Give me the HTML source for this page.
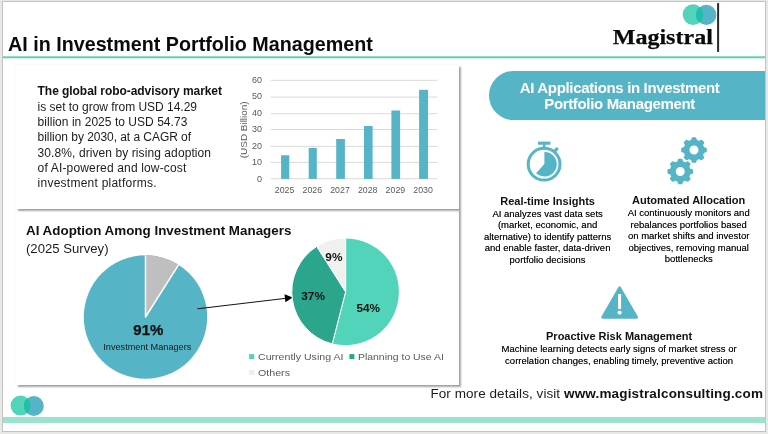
<!DOCTYPE html>
<html lang="en">
<head>
<meta charset="utf-8">
<title>AI in Investment Portfolio Management</title>
<style>
html,body{margin:0;padding:0;}
body{width:768px;height:434px;overflow:hidden;background:#e8e8e5;font-family:"Liberation Sans",sans-serif;color:#111;}
#slide{position:absolute;left:2px;top:1px;width:762px;height:429px;background:#fff;border:1px solid #c2c2c2;}
.abs{position:absolute;white-space:nowrap;z-index:3;}
#title{left:8.4px;top:32.5px;font-size:20.4px;line-height:23px;font-weight:bold;color:#0a0a0a;transform-origin:0 0;transform:scaleX(0.967);}
.card{position:absolute;background:#fff;box-shadow:2px 2px 1.6px rgba(0,0,0,0.34), 0 0 1.5px rgba(0,0,0,0.07);}
#card1{left:16px;top:65px;width:443px;height:144px;z-index:2;}
#card2{left:16px;top:209px;width:443px;height:175.7px;z-index:1;}
#para{left:37.6px;top:0;font-size:12px;line-height:14px;color:#1c1c1c;}
#para b{color:#111;}
#para span{position:absolute;left:0;white-space:nowrap;}
#h2{left:26.2px;top:223px;font-size:13.5px;line-height:16px;font-weight:bold;color:#111;transform-origin:0 50%;transform:translateY(0.45px) scaleX(0.992);z-index:3;}
#h2s{left:26.2px;top:241px;font-size:13.5px;line-height:16px;color:#1c1c1c;transform-origin:0 50%;transform:translateY(0.45px) scaleX(0.973);z-index:3;}
#pill{position:absolute;left:489px;top:71px;width:276px;height:49px;background:#55b4c6;border-radius:24.5px 0 0 24.5px;}
#pilltxt{left:488.6px;top:79.7px;width:262px;text-align:center;font-size:15px;line-height:16.75px;font-weight:bold;color:#fff;letter-spacing:-0.34px;}
.ct{position:absolute;text-align:center;white-space:nowrap;color:#111;z-index:3;}
.ct h3{margin:0;font-size:11px;line-height:12px;font-weight:bold;color:#111;}
.ct p{margin:1px 0 0;font-size:9.5px;line-height:11.45px;color:#000;text-shadow:0 0 0.5px rgba(0,0,0,0.55);}
#c1{left:467.6px;top:195px;width:160px;}
#c2{left:608.7px;top:194.4px;width:160px;}
#c3{left:469.1px;top:329.9px;width:300px;}
#c3 p{line-height:11.8px;}
#footer{left:430.5px;top:385.6px;font-size:13.5px;line-height:16px;color:#1c1c1c;letter-spacing:0.06px;}
#footer b{color:#111;letter-spacing:0.17px;}
svg{position:absolute;left:0;top:0;z-index:4;}
svg text{font-family:"Liberation Sans",sans-serif;}
#bar{position:absolute;left:3px;top:417px;width:762px;height:5.7px;background:#9ae3cf;}
</style>
</head>
<body>
<div id="slide"></div>
<div id="title" class="abs">AI in Investment Portfolio Management</div>

<div id="card1" class="card"></div>
<div id="card2" class="card"></div>

<div id="para" class="abs">
<span style="top:84px;letter-spacing:-0.055px"><b>The global robo-advisory market</b></span>
<span style="top:100px;letter-spacing:-0.024px">is set to grow from USD 14.29</span>
<span style="top:115px;letter-spacing:0.035px">billion in 2025 to USD 54.73</span>
<span style="top:130px;letter-spacing:-0.045px">billion by 2030, at a CAGR of</span>
<span style="top:146px;letter-spacing:0.085px">30.8%, driven by rising adoption</span>
<span style="top:161px;letter-spacing:0.16px">of AI-powered and low-cost</span>
<span style="top:176px;letter-spacing:0.243px">investment platforms.</span>
</div>

<div id="h2" class="abs">AI Adoption Among Investment Managers</div>
<div id="h2s" class="abs">(2025 Survey)</div>

<div id="pill"></div>
<div id="pilltxt" class="abs">AI Applications in Investment<br>Portfolio Management</div>

<div id="c1" class="ct"><h3>Real-time Insights</h3><p>AI analyzes vast data sets<br>(market, economic, and<br>alternative) to identify patterns<br>and enable faster, data-driven<br>portfolio decisions</p></div>
<div id="c2" class="ct"><h3>Automated Allocation</h3><p>AI continuously monitors and<br>rebalances portfolios based<br>on market shifts and investor<br>objectives, removing manual<br>bottlenecks</p></div>
<div id="c3" class="ct"><h3>Proactive Risk Management</h3><p>Machine learning detects early signs of market stress or<br>correlation changes, enabling timely, preventive action</p></div>

<div id="footer" class="abs">For more details, visit <b>www.magistralconsulting.com</b></div>
<div id="bar"></div>

<svg width="768" height="434" viewBox="0 0 768 434">
  <rect id="rule" x="3" y="56.3" width="762" height="2" fill="#60cfb4"/>
  <!-- logo top -->
  <g id="logo">
    <circle cx="693" cy="14.6" r="10.3" fill="#52d4bb"/>
    <circle cx="706.3" cy="14.9" r="10.1" fill="#55b4c6"/>
    <path d="M699.6 6.9 A10.1 10.1 0 0 0 699.6 22.6 A10.3 10.3 0 0 0 699.6 6.9 Z" fill="#20bfa9"/>
    <rect x="717.1" y="3.1" width="2" height="48.8" fill="#2a2a2a"/>
    <text x="612.7" y="44.4" font-family="'Liberation Serif',serif" font-weight="bold" font-size="21.4" fill="#0a0a0a" stroke="#0a0a0a" stroke-width="0.25" textLength="100.2" lengthAdjust="spacingAndGlyphs" style="font-family:'Liberation Serif',serif">Magistral</text>
  </g>
  <!-- logo bottom -->
  <g>
    <circle cx="20.6" cy="405.6" r="10" fill="#52d4bb"/>
    <circle cx="33.8" cy="406" r="10" fill="#55b4c6"/>
    <path d="M27.2 398.4 A10 10 0 0 0 27.2 413.3 A10 10 0 0 0 27.2 398.4 Z" fill="#20bfa9"/>
  </g>

  <!-- bar chart -->
  <g id="barchart">
    <g stroke="#d9d9d9" stroke-width="1">
      <line x1="270.8" x2="437.3" y1="80.3" y2="80.3"/>
      <line x1="270.8" x2="437.3" y1="97.1" y2="97.1"/>
      <line x1="270.8" x2="437.3" y1="113.75" y2="113.75"/>
      <line x1="270.8" x2="437.3" y1="129.5" y2="129.5"/>
      <line x1="270.8" x2="437.3" y1="146.4" y2="146.4"/>
      <line x1="270.8" x2="437.3" y1="162.4" y2="162.4"/>
      <line x1="270.8" x2="437.3" y1="178.75" y2="178.75"/>
    </g>
    <g fill="#55b4c6">
      <rect x="281.1" y="155.3" width="8.2" height="23.6"/>
      <rect x="308.7" y="148.0" width="8.1" height="30.9"/>
      <rect x="336.2" y="139.0" width="8.7" height="39.9"/>
      <rect x="364.0" y="126.0" width="8.6" height="52.9"/>
      <rect x="391.4" y="110.5" width="8.7" height="68.4"/>
      <rect x="419.1" y="89.8" width="8.9" height="89.1"/>
    </g>
    <g font-size="9.6" fill="#595959" text-anchor="end">
      <text x="262" y="83.2" textLength="10" lengthAdjust="spacingAndGlyphs">60</text>
      <text x="262" y="99.3" textLength="10" lengthAdjust="spacingAndGlyphs">50</text>
      <text x="262" y="116.2" textLength="10" lengthAdjust="spacingAndGlyphs">40</text>
      <text x="262" y="131.9" textLength="10" lengthAdjust="spacingAndGlyphs">30</text>
      <text x="262" y="148.8" textLength="10" lengthAdjust="spacingAndGlyphs">20</text>
      <text x="262" y="164.6" textLength="10" lengthAdjust="spacingAndGlyphs">10</text>
      <text x="262" y="181.5" textLength="5" lengthAdjust="spacingAndGlyphs">0</text>
    </g>
    <g font-size="9.6" fill="#595959" text-anchor="middle">
      <text x="284.6" y="193.2" textLength="19.6" lengthAdjust="spacingAndGlyphs">2025</text>
      <text x="312.3" y="193.2" textLength="19.6" lengthAdjust="spacingAndGlyphs">2026</text>
      <text x="340.0" y="193.2" textLength="19.6" lengthAdjust="spacingAndGlyphs">2027</text>
      <text x="367.7" y="193.2" textLength="19.6" lengthAdjust="spacingAndGlyphs">2028</text>
      <text x="395.4" y="193.2" textLength="19.6" lengthAdjust="spacingAndGlyphs">2029</text>
      <text x="423.1" y="193.2" textLength="19.6" lengthAdjust="spacingAndGlyphs">2030</text>
    </g>
    <text font-size="9.4" fill="#595959" text-anchor="middle" textLength="56.8" lengthAdjust="spacingAndGlyphs" transform="translate(246.5,129.8) rotate(-90)">(USD Billion)</text>
  </g>

  <!-- pie 1 -->
  <g id="pie1">
    <circle cx="145.5" cy="317.0" r="61.7" fill="#55b4c6"/>
    <path d="M145.5 317.0 L145.5 255.3 A61.7 61.7 0 0 1 178.56 264.90 Z" fill="#bfbfbf"/>
    <path d="M145.5 255.3 L145.5 317.0 L178.56 264.90" fill="none" stroke="#fff" stroke-width="1.5" stroke-linejoin="round"/>
    <text x="148.4" y="335" font-size="14.2" font-weight="bold" fill="#111" stroke="#111" stroke-width="0.25" text-anchor="middle" textLength="30.1" lengthAdjust="spacingAndGlyphs">91%</text>
    <text x="147.3" y="350" font-size="9.5" fill="#1a1a1a" text-anchor="middle" textLength="88" lengthAdjust="spacingAndGlyphs">Investment Managers</text>
  </g>
  <!-- arrow -->
  <g id="arrow">
    <line x1="197.5" y1="308.8" x2="286" y2="298.3" stroke="#111" stroke-width="1"/>
    <path d="M292.8 297.5 L284.5 294.2 L285.4 302.2 Z" fill="#000"/>
  </g>
  <!-- pie 2 -->
  <g id="pie2" stroke="#fff" stroke-width="1" stroke-linejoin="round" transform="translate(-0.3,0.2)">
    <path d="M345.9 291.6 L345.90 237.80 A53.8 53.8 0 1 1 332.52 343.71 Z" fill="#52d4bb"/>
    <path d="M345.9 291.6 L332.52 343.71 A53.8 53.8 0 0 1 317.07 246.18 Z" fill="#2ca58d"/>
    <path d="M345.9 291.6 L317.07 246.18 A53.8 53.8 0 0 1 345.90 237.80 Z" fill="#f0f0f0"/>
  </g>
  <g font-size="11.8" font-weight="bold" fill="#111" text-anchor="middle">
    <text x="333.9" y="260.5">9%</text>
    <text x="313.1" y="299.8">37%</text>
    <text x="368.2" y="311.7">54%</text>
  </g>
  <!-- legend -->
  <g id="legend" font-size="9.5" fill="#595959">
    <rect x="249.1" y="354.1" width="5.1" height="5" fill="#52d4bb"/>
    <text x="258" y="359.8" textLength="85.4" lengthAdjust="spacingAndGlyphs">Currently Using AI</text>
    <rect x="349.4" y="354.1" width="5" height="5" fill="#2ca58d"/>
    <text x="358" y="359.8" textLength="85.8" lengthAdjust="spacingAndGlyphs">Planning to Use AI</text>
    <rect x="249.1" y="370" width="5.1" height="5" fill="#eeeeee"/>
    <text x="258" y="375.7" textLength="32" lengthAdjust="spacingAndGlyphs">Others</text>
  </g>

  <!-- stopwatch -->
  <g id="stopwatch">
    <circle cx="544.1" cy="164.2" r="15.9" fill="none" stroke="#55b4c6" stroke-width="3"/>
    <rect x="537.9" y="141.6" width="12.5" height="3.1" fill="#55b4c6"/>
    <rect x="542.9" y="144" width="2.6" height="4.5" fill="#55b4c6"/>
    <line x1="555" y1="150.8" x2="556.9" y2="148.9" stroke="#55b4c6" stroke-width="3.1" stroke-linecap="round"/>
    <path d="M544.4 164.1 L544.4 151.9 A12.3 12.3 0 1 1 536.1 173.2 Z" fill="#55b4c6"/>
  </g>
  <!-- gears -->
  <g id="gears" fill="#55b4c6" stroke="#55b4c6" stroke-width="1.6" stroke-linejoin="round" fill-rule="evenodd">
    <path d="M691.82 140.55 L692.53 137.99 L695.47 137.99 L696.18 140.55 L699.14 141.77 L701.45 140.47 L703.53 142.55 L702.23 144.86 L703.45 147.82 L706.01 148.53 L706.01 151.47 L703.45 152.18 L702.23 155.14 L703.53 157.45 L701.45 159.53 L699.14 158.23 L696.18 159.45 L695.47 162.01 L692.53 162.01 L691.82 159.45 L688.86 158.23 L686.55 159.53 L684.47 157.45 L685.77 155.14 L684.55 152.18 L681.99 151.47 L681.99 148.53 L684.55 147.82 L685.77 144.86 L684.47 142.55 L686.55 140.47 L688.86 141.77 Z M688.70 150.00 a5.3 5.3 0 1 0 10.6 0 a5.3 5.3 0 1 0 -10.6 0 Z"/>
    <path d="M678.07 162.05 L678.78 159.49 L681.72 159.49 L682.43 162.05 L685.39 163.27 L687.70 161.97 L689.78 164.05 L688.48 166.36 L689.70 169.32 L692.26 170.03 L692.26 172.97 L689.70 173.68 L688.48 176.64 L689.78 178.95 L687.70 181.03 L685.39 179.73 L682.43 180.95 L681.72 183.51 L678.78 183.51 L678.07 180.95 L675.11 179.73 L672.80 181.03 L670.72 178.95 L672.02 176.64 L670.80 173.68 L668.24 172.97 L668.24 170.03 L670.80 169.32 L672.02 166.36 L670.72 164.05 L672.80 161.97 L675.11 163.27 Z M674.95 171.50 a5.3 5.3 0 1 0 10.6 0 a5.3 5.3 0 1 0 -10.6 0 Z"/>
  </g>
  <!-- warning -->
  <g id="warn">
    <path d="M619.6 287.9 L602.8 317.3 L636.5 317.3 Z" fill="#55b4c6" stroke="#55b4c6" stroke-width="3" stroke-linejoin="round"/>
    <rect x="618.1" y="294" width="3" height="14.9" rx="0.6" fill="#fff"/>
    <circle cx="619.6" cy="312.6" r="2.1" fill="#fff"/>
  </g>
</svg>
</body>
</html>
